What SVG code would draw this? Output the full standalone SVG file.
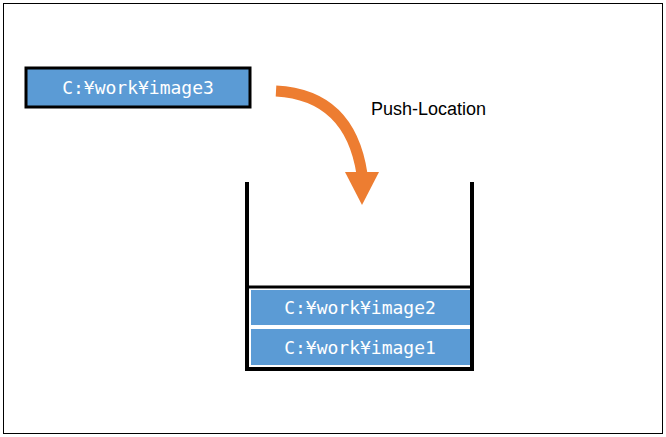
<svg xmlns="http://www.w3.org/2000/svg" width="666" height="437" viewBox="0 0 666 437">
<style>
.t{font-family:"DejaVu Sans Mono","Liberation Mono",monospace;font-size:18px;fill:#fff;text-anchor:middle}
.b{fill:#5B9BD5}
</style>
<rect x="3.5" y="3.5" width="659" height="430" fill="#fff" stroke="#000" stroke-width="1"/>
<g id="image3"><rect class="b" x="26" y="68" width="224" height="39" stroke="#000" stroke-width="3"/><text class="t" x="138" y="94">C:¥work¥image3</text></g>
<g id="stack">
<path d="M247,182 V369 H472 V182" fill="none" stroke="#000" stroke-width="4"/>
<line x1="247" y1="287" x2="472" y2="287" stroke="#000" stroke-width="3"/>
</g>
<g id="image2"><rect class="b" x="251" y="290" width="219" height="35"/><text class="t" x="360" y="314">C:¥work¥image2</text></g>
<g id="image1"><rect class="b" x="251" y="329" width="219" height="36"/><text class="t" x="360" y="354">C:¥work¥image1</text></g>
<g id="connectors">
<path d="M276,91 Q350,95 362,174" fill="none" stroke="#ED7D31" stroke-width="11"/>
<polygon points="345,172 379,172 362,205" fill="#ED7D31"/>
<text x="371" y="115" font-family="Liberation Sans,Arial,sans-serif" font-size="18" fill="#000">Push-Location</text>
</g>
</svg>
